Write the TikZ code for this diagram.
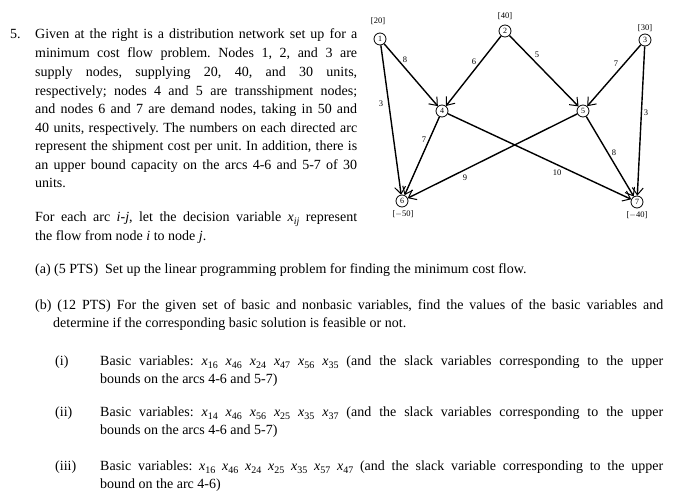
\documentclass[tikz,border=0pt]{standalone}
\usepackage{fontspec}
\setmainfont{Liberation Serif}
\usetikzlibrary{arrows.meta}
\frenchspacing
\newcommand\X[1]{\textit{x}\raisebox{-0.35ex}{\fontsize{10}{10}\selectfont #1}}
\begin{document}
\begin{tikzpicture}[x=1pt,y=-1pt,
  nd/.style={circle,draw,line width=0.8pt,inner sep=0pt,minimum size=12pt,font=\fontsize{8}{8}\selectfont},
  arc/.style={line width=1.4pt,-{Straight Barb[length=7pt,width=11pt,line width=1pt]}},
  sm/.style={font=\fontsize{8.5}{9}\selectfont,inner sep=0pt},
  tl/.style={anchor=base west,inner sep=0pt,font=\fontsize{14}{16}\selectfont}]
\useasboundingbox (0,0) rectangle (681,497);
% network
\node[nd] (n1) at (380,39) {1};
\node[nd] (n2) at (505,31) {2};
\node[nd] (n3) at (645,40) {3};
\node[nd] (n4) at (442,111) {4};
\node[nd] (n5) at (583,111) {5};
\node[nd] (n6) at (402,201) {6};
\node[nd] (n7) at (637,202) {7};
\node[sm] (s1) at (378,21) {[20]};
\node[sm] (s2) at (505,16) {[40]};
\node[sm] (s3) at (645,28) {[30]};
\node[sm] (s6) at (403,214) {[$-$50]};
\node[sm] (s7) at (637,215) {[$-$40]};
\draw[arc] (n1) -- (n6); \node[sm] (l16) at (381,104) {3};
\draw[arc] (n1) -- (n4); \node[sm] (l14) at (405,60) {8};
\draw[arc] (n2) -- (n4); \node[sm] (l24) at (474,62) {6};
\draw[arc] (n2) -- (n5); \node[sm] (l25) at (537,55) {5};
\draw[arc] (n3) -- (n5); \node[sm] (l35) at (616,64) {7};
\draw[arc] (n3) -- (n7); \node[sm] (l37) at (646,113) {3};
\draw[arc] (n4) -- (n6); \node[sm] (l46) at (424,140) {7};
\draw[arc] (n4) -- (n7); \node[sm] (l47) at (557,173) {10};
\draw[arc] (n5) -- (n6); \node[sm] (l56) at (465,178) {9};
\draw[arc] (n5) -- (n7); \node[sm] (l57) at (614,153) {8};
% text
\node[tl] (t0) at (10,39) {5.};
\def\J#1{\makebox[322pt][s]{#1}}
\node[tl] (t1) at (35,39) {\J{Given at the right is a distribution network set up for a}};
\node[tl] (t2) at (35,58) {\J{minimum cost flow problem. Nodes 1, 2, and 3 are}};
\node[tl] (t3) at (35,77) {\J{supply nodes, supplying 20, 40, and 30 units,}};
\node[tl] (t4) at (35,96) {\J{respectively; nodes 4 and 5 are transshipment nodes;}};
\node[tl] (t5) at (35,114) {\J{and nodes 6 and 7 are demand nodes, taking in 50 and}};
\node[tl] (t6) at (35,133) {\J{40 units, respectively. The numbers on each directed arc}};
\node[tl] (t7) at (35,151) {\J{represent the shipment cost per unit. In addition, there is}};
\node[tl] (t8) at (35,170) {\J{an upper bound capacity on the arcs 4-6 and 5-7 of 30}};
\node[tl] (t9) at (35,188) {units.};
\node[tl] (t10) at (35,222) {\J{For each arc \textit{i-j}, let the decision variable \X{\textit{ij}} represent}};
\node[tl] (t11) at (35,241) {the flow from node \textit{i} to node \textit{j}.};
\node[tl] (ta) at (35,274) {(a) (5 PTS)\ \ Set up the linear programming problem for finding the minimum cost flow.};
\node[tl] (tb) at (35,310) {\makebox[628pt][s]{(b) (12 PTS) For the given set of basic and nonbasic variables, find the values of the basic variables and}};
\node[tl] (tb2) at (53,328) {determine if the corresponding basic solution is feasible or not.};
\node[tl] (i1) at (55,366) {(i)};
\node[tl] (i1a) at (100,366) {\makebox[563pt][s]{Basic variables: \X{16} \X{46} \X{24} \X{47} \X{56} \X{35} (and the slack variables corresponding to the upper}};
\node[tl] (i1b) at (100,384) {bounds on the arcs 4-6 and 5-7)};
\node[tl] (i2) at (55,417) {(ii)};
\node[tl] (i2a) at (100,417) {\makebox[563pt][s]{Basic variables: \X{14} \X{46} \X{56} \X{25} \X{35} \X{37} (and the slack variables corresponding to the upper}};
\node[tl] (i2b) at (100,435) {bounds on the arcs 4-6 and 5-7)};
\node[tl] (i3) at (55,471) {(iii)};
\node[tl] (i3a) at (100,471) {\makebox[563pt][s]{Basic variables: \X{16} \X{46} \X{24} \X{25} \X{35} \X{57} \X{47} (and the slack variable corresponding to the upper}};
\node[tl] (i3b) at (100,489) {bound on the arc 4-6)};
\end{tikzpicture}
\end{document}
